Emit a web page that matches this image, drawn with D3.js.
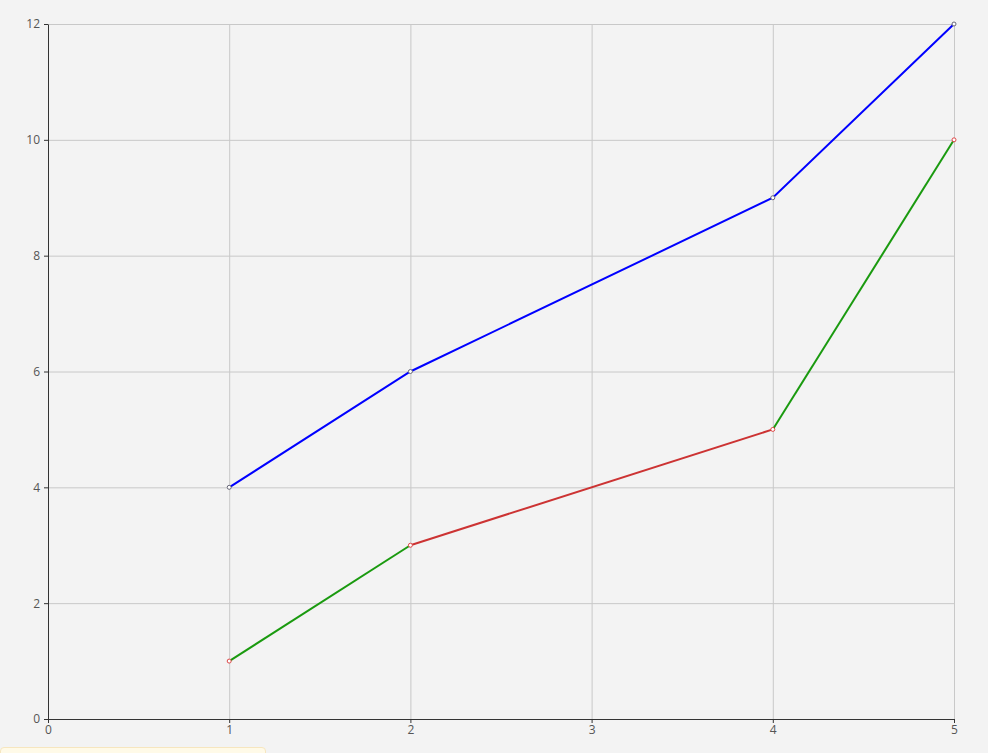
<!DOCTYPE html>
<html>
<head>
<meta charset="utf-8">
<script src="https://cdn.jsdelivr.net/npm/d3@7"></script>
<style>
  html, body { margin: 0; padding: 0; background: #f3f3f3; overflow: hidden; }
  body { width: 988px; height: 753px; position: relative; font-family: "Open Sans", "DejaVu Sans", sans-serif; }
  .grid line { stroke: #c8c8c8; stroke-width: 1; }
  .grid .domain { display: none; }
  .axis text { fill: #555; font-size: 12px; font-family: "Open Sans", "DejaVu Sans", sans-serif; }
  .axis path, .axis line { stroke: #333; }
  #tip { position: absolute; left: 0; top: 747px; width: 264px; height: 30px;
         background: #fffae8; border: 1px solid #f6e6bf; border-radius: 4px; }
</style>
</head>
<body>
<div id="tip"></div>
<script>
const xs = [1, 2, 4, 5];
const upper = [4, 6, 9, 12];
const lower = [1, 3, 5, 10];
// segment class of the lower series: between consecutive points
const lowerSegments = ["steep", "gentle", "steep"];
const xTicks = [0, 1, 2, 3, 4, 5];
const yTicks = [0, 2, 4, 6, 8, 10, 12];

const width = 988, height = 753;
const margin = {top: 24, right: 34, bottom: 34, left: 48};

const svg = d3.select("body").append("svg")
    .attr("width", width)
    .attr("height", height)
    .style("position", "absolute")
    .style("left", 0).style("top", 0);

const x = d3.scaleLinear().domain([0, 5]).range([margin.left, width - margin.right]);
const y = d3.scaleLinear().domain([0, 12]).range([height - margin.bottom, margin.top]);

const segColor = d3.scaleOrdinal().domain(["steep", "gentle"]).range(["#1a9a0f", "#cc3333"]);

// grid
svg.append("g").attr("class", "grid")
    .attr("transform", `translate(0,${margin.top})`)
    .call(d3.axisBottom(x).tickValues(xTicks.slice(1)).tickSize(y(0) - margin.top).tickFormat(""));
svg.append("g").attr("class", "grid")
    .attr("transform", `translate(${margin.left},0)`)
    .call(d3.axisRight(y).tickValues(yTicks.slice(1)).tickSize(x(5) - margin.left).tickFormat(""));

// axes
svg.append("g").attr("class", "axis")
    .attr("transform", `translate(0,${y(0)})`)
    .call(d3.axisBottom(x).tickValues(xTicks).tickFormat(d3.format("d")).tickSize(4).tickSizeOuter(0).tickPadding(2));
svg.append("g").attr("class", "axis")
    .attr("transform", `translate(${margin.left},0)`)
    .call(d3.axisLeft(y).tickValues(yTicks).tickFormat(d3.format("d")).tickSize(4).tickSizeOuter(0).tickPadding(4));

const line = d3.line().x(d => x(d[0])).y(d => y(d[1]));

const upperPts = xs.map((v, i) => [v, upper[i]]);
const lowerPts = xs.map((v, i) => [v, lower[i]]);

svg.append("path")
    .attr("d", line(upperPts))
    .attr("fill", "none")
    .attr("stroke", "#0000ff")
    .attr("stroke-width", 2);

svg.append("g").selectAll("path")
  .data(lowerSegments)
  .join("path")
    .attr("d", (s, i) => line([lowerPts[i], lowerPts[i + 1]]))
    .attr("fill", "none")
    .attr("stroke", s => segColor(s))
    .attr("stroke-width", 2);

svg.append("g").selectAll("circle")
  .data(upperPts)
  .join("circle")
    .attr("cx", d => x(d[0]))
    .attr("cy", d => y(d[1]))
    .attr("r", 2)
    .attr("fill", "#fff")
    .attr("stroke", "#667");

svg.append("g").selectAll("circle")
  .data(lowerPts)
  .join("circle")
    .attr("cx", d => x(d[0]))
    .attr("cy", d => y(d[1]))
    .attr("r", 2)
    .attr("fill", "#fff")
    .attr("stroke", "#dd4444");
</script>
</body>
</html>
